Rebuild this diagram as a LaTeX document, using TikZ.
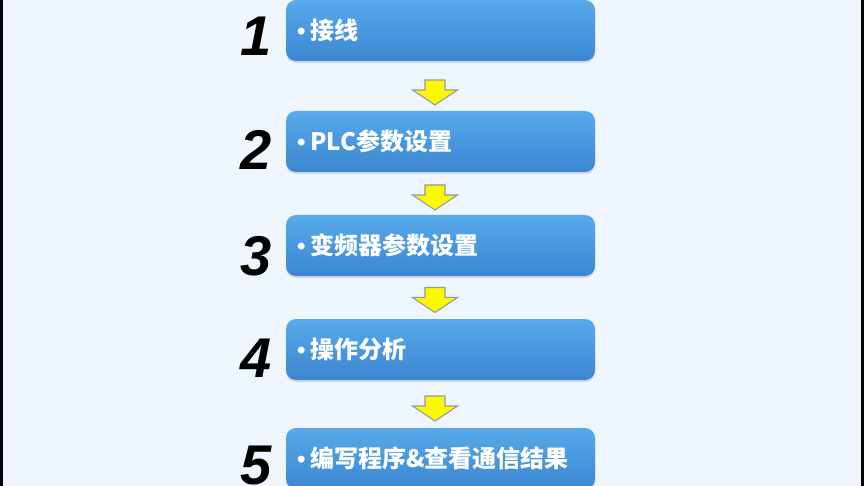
\documentclass[tikz,border=0pt]{standalone}
\usepackage{fontspec}
\newfontfamily\cjk{Noto Sans CJK SC}
\newfontfamily\digitfont{Liberation Sans}
\usetikzlibrary{shadows,calc}
\definecolor{bgc}{HTML}{EFF5FC}
\definecolor{boxtop}{HTML}{58AAEB}
\definecolor{boxbot}{HTML}{3B86D1}
\definecolor{arrowline}{HTML}{8C9BAA}
\definecolor{arrowfill}{HTML}{FCF800}
\newcommand{\bul}{{\digitfont\bfseries •}\hspace{5pt}}
\tikzset{
  stepbox/.style={rectangle, rounded corners=10pt, top color=boxtop, bottom color=boxbot,
    draw=none, minimum height=61pt, text width=287pt, inner xsep=11pt, inner ysep=0pt, align=left,
    text=white, font=\cjk\bfseries\fontsize{24}{24}\selectfont,
    drop shadow={shadow xshift=0pt, shadow yshift=-2pt, opacity=0.25}},
  stepnum/.style={anchor=east, inner sep=0pt, text=black, font=\digitfont\bfseries\itshape\fontsize{56}{56}\selectfont},
  yarrow/.style={draw=arrowline, fill=arrowfill, line width=1.1pt, line join=miter},
}
\newcommand{\downarrowat}[1]{%
  \draw[yarrow] ([shift={(-10pt,12.5pt)}]#1) -- ++(20pt,0) -- ++(0,-10pt) -- ++(12.5pt,0)
    -- ++(-22.5pt,-15pt) -- ++(-22.5pt,15pt) -- ++(12.5pt,0) -- cycle;}
\begin{document}
\begin{tikzpicture}[x=1pt,y=1pt]
\useasboundingbox (0,0) rectangle (864,-486);
\fill[bgc] (0,0) rectangle (864,-486);
\fill[black] (0,0) rectangle (3,-486);
\fill[black] (861,0) rectangle (864,-486);

\node[stepbox] (b1) at (440.5,-30.5) {\bul 接线};
\node[stepbox] (b2) at (440.5,-141.5) {\bul PLC参数设置};
\node[stepbox] (b3) at (440.5,-245.5) {\bul 变频器参数设置};
\node[stepbox] (b4) at (440.5,-349.5) {\bul 操作分析};
\node[stepbox] (b5) at (440.5,-458.5) {\bul 编写程序\&查看通信结果};

\node[stepnum] (n1) at (272,-36) {1};
\node[stepnum] (n2) at (272,-150) {2};
\node[stepnum] (n3) at (272,-256) {3};
\node[stepnum] (n4) at (272,-358) {4};
\node[stepnum] (n5) at (272,-466) {5};

\coordinate (a1) at (435,-92.5);
\coordinate (a2) at (435,-197.5);
\coordinate (a3) at (435,-300);
\coordinate (a4) at (435,-408.5);
\downarrowat{a1}
\downarrowat{a2}
\downarrowat{a3}
\downarrowat{a4}
\end{tikzpicture}
\end{document}
